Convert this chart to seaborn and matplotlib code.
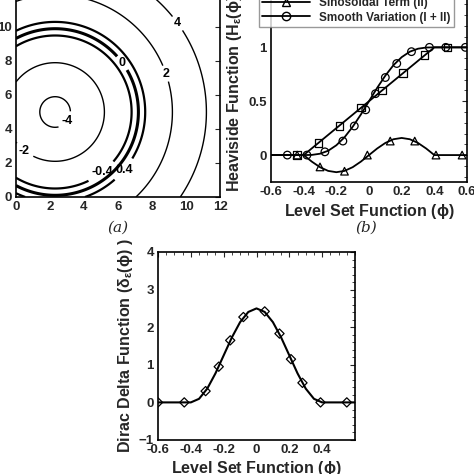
import numpy as np
import pandas as pd
import matplotlib
matplotlib.use("Agg")
import matplotlib.pyplot as plt
import seaborn as sns
from matplotlib.lines import Line2D

sns.set_style("white")
plt.rcParams['font.family'] = ['Liberation Sans', 'DejaVu Sans']
plt.rcParams['font.weight'] = 'bold'
plt.rcParams['mathtext.default'] = 'regular'

# ---- panel (a): signed distance contour data ----
circle_center = [2.3, 5.0]
circle_radius = 4.9
contour_levels = [-4, -2, -0.4, 0, 0.4, 2, 4]
contour_widths = [1, 1, 1.6, 2.2, 1.6, 1, 1]

# ---- panel (b) curves ----
phi = [-0.6, -0.55, -0.5, -0.45, -0.4, -0.35, -0.3, -0.25, -0.2, -0.15, -0.1, -0.05, 0.0,
       0.05, 0.1, 0.15, 0.2, 0.25, 0.3, 0.35, 0.4, 0.45, 0.5, 0.55, 0.6]
linear_H = [0, 0, 0, 0, 0, 0.0625, 0.125, 0.1875, 0.25, 0.3125, 0.375, 0.4375, 0.5,
            0.5625, 0.625, 0.6875, 0.75, 0.8125, 0.875, 0.9375, 1, 1, 1, 1, 1]
sin_term = [0, 0, 0, 0, 0, -0.061, -0.1125, -0.147, -0.159, -0.147, -0.1125, -0.061, 0,
            0.061, 0.1125, 0.147, 0.159, 0.147, 0.1125, 0.061, 0, 0, 0, 0, 0]
smooth_H = [0, 0, 0, 0, 0, 0.0015, 0.0125, 0.040, 0.091, 0.165, 0.2625, 0.376, 0.5,
            0.624, 0.7375, 0.835, 0.909, 0.960, 0.9875, 0.9985, 1, 1, 1, 1, 1]
sq_x = [-0.44, -0.31, -0.18, -0.05, 0.08, 0.21, 0.34, 0.48]
sq_y = [0, 0.11, 0.27, 0.44, 0.60, 0.76, 0.93, 1]
tri_x = [-0.44, -0.30, -0.15, -0.01, 0.13, 0.28, 0.41, 0.57]
tri_y = [0, -0.11, -0.15, 0, 0.13, 0.13, 0, 0]
circ_x = [-0.5, -0.38, -0.27, -0.16, -0.09, -0.02, 0.04, 0.10, 0.17, 0.26, 0.37, 0.47, 0.59]
circ_y = [0, 0, 0.03, 0.13, 0.27, 0.42, 0.57, 0.72, 0.85, 0.96, 1, 1, 1]

# ---- panel (c) ----
delta = [0, 0, 0, 0, 0, 0.095, 0.366, 0.772, 1.25, 1.728, 2.134, 2.405, 2.5,
         2.405, 2.134, 1.728, 1.25, 0.772, 0.366, 0.095, 0, 0, 0, 0, 0]
dia_x = [-0.6, -0.44, -0.31, -0.23, -0.16, -0.08, 0.05, 0.14, 0.21, 0.28, 0.39, 0.55]
dia_y = [0, 0, 0.30, 0.95, 1.65, 2.27, 2.42, 1.83, 1.15, 0.52, 0, 0]

fig = plt.figure(figsize=(4.74, 4.74), dpi=100)

def style(ax):
    ax.tick_params(direction='in', which='both', top=True, right=True, labelsize=9.5, pad=3)
    ax.minorticks_on()
    for s in ax.spines.values():
        s.set_linewidth(1.2)
        s.set_color('black')
    for lab in ax.get_xticklabels() + ax.get_yticklabels():
        lab.set_fontweight('bold')

# (a)
axa = fig.add_axes([16/474, 1-197/474, 204/474, 204/474])
gx = np.linspace(0, 12, 300)
X, Y = np.meshgrid(gx, gx)
Z = np.hypot(X - circle_center[0], Y - circle_center[1]) - circle_radius
cs = axa.contour(X, Y, Z, levels=contour_levels, colors='black', linewidths=contour_widths,
                 linestyles='solid')
labs = axa.clabel(cs, fmt='%g', fontsize=9, inline=True)
for t in labs:
    t.set_rotation(0)
axa.set_xlim(0, 12); axa.set_ylim(0, 12)
axa.set_xticks([0, 2, 4, 6, 8, 10, 12]); axa.set_yticks([0, 2, 4, 6, 8, 10])
style(axa)
axa.tick_params(which='minor', length=0)
fig.text(118/474, 1-228/474, '(a)', fontsize=11, fontstyle='italic', family='DejaVu Serif',
         fontweight='normal', ha='center', va='center')

# (b)
axb = fig.add_axes([271/474, 1-182/474, 196/474, 188.5/474])
dfb = pd.DataFrame({'phi': phi, 'lin': linear_H, 'sin': sin_term, 'smooth': smooth_H})
sns.lineplot(data=dfb, x='phi', y='lin', ax=axb, color='black', lw=1.3)
sns.lineplot(data=dfb, x='phi', y='sin', ax=axb, color='black', lw=1.3)
sns.lineplot(data=dfb, x='phi', y='smooth', ax=axb, color='black', lw=1.3)
mk = dict(facecolor='none', edgecolor='black', linewidth=0.9, s=30, ax=axb, zorder=3)
sns.scatterplot(x=sq_x, y=sq_y, marker='s', **mk)
sns.scatterplot(x=tri_x, y=tri_y, marker='^', **mk)
sns.scatterplot(x=circ_x, y=circ_y, marker='o', **mk)
axb.set_xlim(-0.6, 0.6); axb.set_ylim(-0.25, 1.5)
axb.set_xticks([-0.6, -0.4, -0.2, 0, 0.2, 0.4, 0.6])
axb.set_xticklabels(['-0.6', '-0.4', '-0.2', '0', '0.2', '0.4', '0.6'])
axb.set_yticks([0, 0.5, 1]); axb.set_yticklabels(['0', '0.5', '1'])
axb.set_xlabel(r'Level Set Function ($\phi$)', fontsize=11.5, fontweight='bold', labelpad=3)
axb.set_ylabel(r'Heaviside Function (H$_\varepsilon$($\phi$) )', fontsize=11.5, fontweight='bold', labelpad=3)
style(axb)
handles = [Line2D([], [], color='black', marker='s', mfc='none', lw=1.3),
           Line2D([], [], color='black', marker='^', mfc='none', lw=1.3),
           Line2D([], [], color='black', marker='o', mfc='none', lw=1.3)]
fig.legend(handles, ['Linear Function (I)', 'Sinosoidal Term (II)', 'Smooth Variation (I + II)'],
           loc='lower left', bbox_to_anchor=(253/474, 1-33/474), frameon=True,
           fancybox=False, edgecolor='gray', handlelength=4, borderpad=0.3, labelspacing=0.2,
           prop={'weight': 'bold', 'size': 8.5})
fig.text(366/474, 1-228/474, '(b)', fontsize=11, fontstyle='italic', family='DejaVu Serif',
         fontweight='normal', ha='center', va='center')

# (c)
axc = fig.add_axes([158/474, 1-440/474, 197/474, 188/474])
dfc = pd.DataFrame({'phi': phi, 'delta': delta})
sns.lineplot(data=dfc, x='phi', y='delta', ax=axc, color='black', lw=1.5)
sns.scatterplot(x=dia_x, y=dia_y, marker='D', facecolor='none', edgecolor='black',
                linewidth=0.9, s=22, ax=axc, zorder=3)
axc.set_xlim(-0.6, 0.6); axc.set_ylim(-1, 4)
axc.set_xticks([-0.6, -0.4, -0.2, 0, 0.2, 0.4])
axc.set_xticklabels(['-0.6', '-0.4', '-0.2', '0', '0.2', '0.4'])
axc.set_yticks([-1, 0, 1, 2, 3, 4])
axc.set_xlabel(r'Level Set Function ($\phi$)', fontsize=11.5, fontweight='bold', labelpad=2)
axc.set_ylabel(r'Dirac Delta Function ($\delta_\varepsilon$($\phi$) )', fontsize=11.5, fontweight='bold', labelpad=3)
style(axc)

fig.savefig('out.png', dpi=100)
